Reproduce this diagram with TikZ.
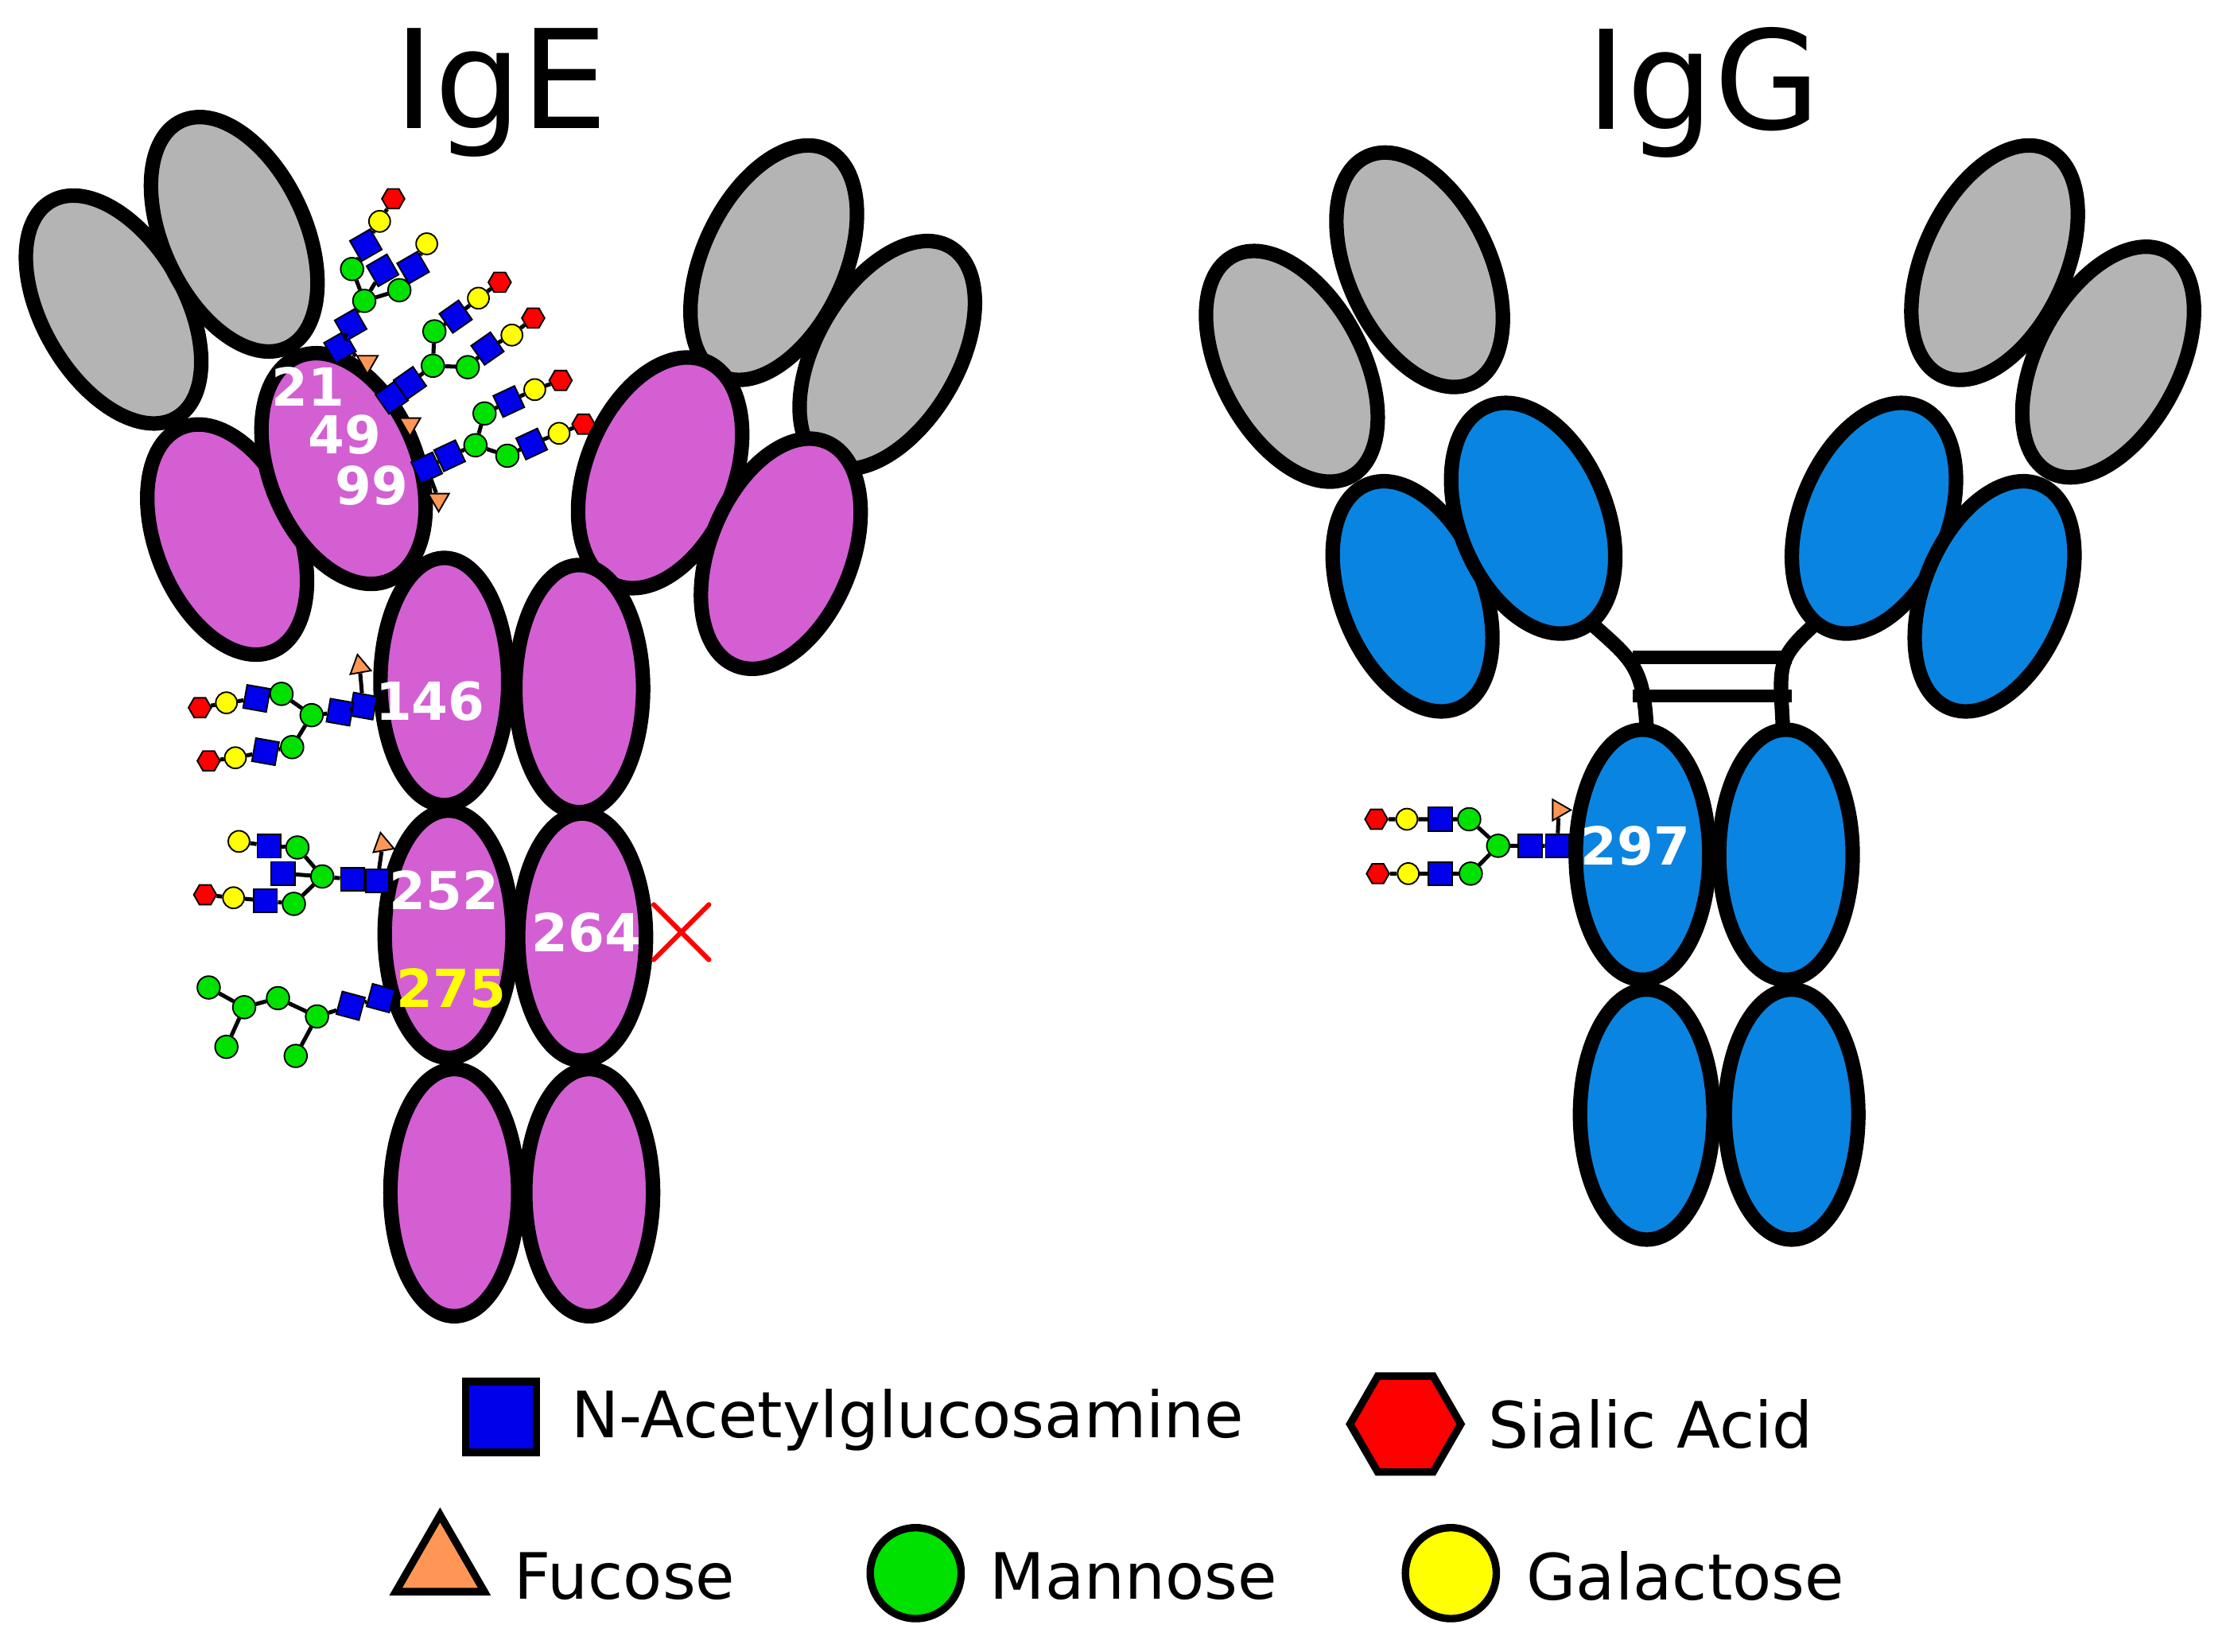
\documentclass[tikz,border=0pt]{standalone}
\usepackage{fontspec}
\setmainfont{DejaVu Sans}
\usetikzlibrary{shapes.geometric}
\definecolor{purpdom}{RGB}{211,95,211}
\definecolor{bluedom}{RGB}{10,132,225}
\definecolor{graydom}{RGB}{180,180,180}
\definecolor{gncol}{RGB}{0,0,235}
\definecolor{mancol}{RGB}{0,225,0}
\definecolor{galcol}{RGB}{255,255,0}
\definecolor{siacol}{RGB}{255,0,0}
\definecolor{fuccol}{RGB}{255,150,85}
\tikzset{
  dom/.style={draw=black,line width=2.9pt},
  gn/.style={draw,fill=gncol,minimum size=0.165cm,inner sep=0pt,line width=0.3pt},
  man/.style={draw,fill=mancol,circle,minimum size=0.16cm,inner sep=0pt,line width=0.3pt},
  gal/.style={draw,fill=galcol,circle,minimum size=0.15cm,inner sep=0pt,line width=0.3pt},
  sia/.style={draw,fill=siacol,regular polygon,regular polygon sides=6,minimum size=0.16cm,inner sep=0pt,line width=0.3pt},
  fuc/.style={draw,fill=fuccol,regular polygon,regular polygon sides=3,minimum size=0.17cm,inner sep=0pt,line width=0.3pt},
  link/.style={line width=0.8pt},
  site/.style={text=white,font=\bfseries\fontsize{10.5}{12}\selectfont},
  legtext/.style={anchor=west,font=\fontsize{12.8}{15}\selectfont},
}
\begin{document}
\begin{tikzpicture}[x=0.01cm,y=0.01cm]
\useasboundingbox (0,0) rectangle (1568,-1163);
% titles
\node[font=\fontsize{27.5}{30}\selectfont] (tE) at (353,-65) {IgE};
\node[font=\fontsize{27.5}{30}\selectfont] (tG) at (1200,-65) {IgG};
% IgE domains
\draw[dom,fill=graydom] (80,-218) ellipse [x radius=0.5cm,y radius=0.88cm,rotate=30];
\draw[dom,fill=graydom] (165,-165) ellipse [x radius=0.5cm,y radius=0.88cm,rotate=25];
\draw[dom,fill=purpdom] (160,-380) ellipse [x radius=0.5cm,y radius=0.85cm,rotate=22];
\draw[dom,fill=purpdom] (242,-330) ellipse [x radius=0.52cm,y radius=0.85cm,rotate=22];
\draw[dom,fill=graydom] (545,-185) ellipse [x radius=0.5cm,y radius=0.88cm,rotate=-25];
\draw[dom,fill=graydom] (625,-250) ellipse [x radius=0.5cm,y radius=0.88cm,rotate=-30];
\draw[dom,fill=purpdom] (465,-333) ellipse [x radius=0.52cm,y radius=0.85cm,rotate=-22];
\draw[dom,fill=purpdom] (550,-390) ellipse [x radius=0.5cm,y radius=0.85cm,rotate=-22];
\foreach \cx/\cy in {313/480,408/485,316/658,410/660,320/840,415/840}
  \draw[dom,fill=purpdom] (\cx,-\cy) ellipse [x radius=0.45cm,y radius=0.87cm];
% IgG hinge
\draw[line width=2.9pt] (1122,-440) .. controls (1150,-465) and (1158,-470) .. (1160,-515);
\draw[line width=2.9pt] (1278,-440) .. controls (1250,-465) and (1254,-470) .. (1256,-515);
\draw[line width=2.6pt] (1150,-463) -- (1262,-463);
\draw[line width=2.6pt] (1150,-490) -- (1262,-490);
% IgG domains
\draw[dom,fill=graydom] (910,-258) ellipse [x radius=0.5cm,y radius=0.88cm,rotate=28];
\draw[dom,fill=graydom] (1000,-190) ellipse [x radius=0.5cm,y radius=0.88cm,rotate=25];
\draw[dom,fill=bluedom] (995,-420) ellipse [x radius=0.5cm,y radius=0.85cm,rotate=22];
\draw[dom,fill=bluedom] (1080,-365) ellipse [x radius=0.52cm,y radius=0.85cm,rotate=22];
\draw[dom,fill=graydom] (1405,-185) ellipse [x radius=0.5cm,y radius=0.88cm,rotate=-25];
\draw[dom,fill=graydom] (1485,-255) ellipse [x radius=0.5cm,y radius=0.88cm,rotate=-28];
\draw[dom,fill=bluedom] (1320,-365) ellipse [x radius=0.52cm,y radius=0.85cm,rotate=-22];
\draw[dom,fill=bluedom] (1405,-420) ellipse [x radius=0.5cm,y radius=0.85cm,rotate=-22];
\foreach \cx/\cy in {1157/602,1258/602,1160/785,1262/785}
  \draw[dom,fill=bluedom] (\cx,-\cy) ellipse [x radius=0.47cm,y radius=0.88cm];
% site labels
\node[site] (l21) at (217,-272) {21};
\node[site] (l49) at (243,-306) {49};
\node[site] (l99) at (262,-342) {99};
\node[site] (l146) at (303,-494) {146};
\node[site] (l252) at (313,-627) {252};
\node[site,text=galcol] (l275) at (318,-696) {275};
\node[site] (l264) at (413,-657) {264};
\node[site] (l297) at (1152,-596) {297};
\node[text=red,font=\fontsize{24}{26}\selectfont] (nox) at (480,-657) {$\times$};
% glycan 21
\node[gn,rotate=30] (a1) at (239.5,-244.5) {};
\node[gn,rotate=30] (a2) at (247,-228.7) {};
\node[man] (a3) at (256.6,-211.9) {};
\node[man] (a4) at (248,-189.5) {};
\node[man] (a5) at (281.3,-204.4) {};
\node[gn,rotate=30] (a6) at (257.7,-172.7) {};
\node[gal] (a7) at (267.4,-155.9) {};
\node[sia] (a8) at (277,-140) {};
\node[gn,rotate=30] (a9) at (269.5,-190.4) {};
\node[gn,rotate=30] (a10) at (291,-188.5) {};
\node[gal] (a11) at (300.6,-171.7) {};
\node[fuc,rotate=180] (a12) at (258.8,-254.8) {};
\draw[link] (a1)--(a2) (a2)--(a3) (a3)--(a4) (a3)--(a5) (a4)--(a6) (a6)--(a7) (a7)--(a8)
  (a3)--(a9) (a5)--(a10) (a10)--(a11) (a1)--(a12);
% glycan 49
\node[gn,rotate=35] (b1) at (276,-280) {};
\node[gn,rotate=35] (b2) at (288.8,-269.8) {};
\node[man] (b3) at (304.9,-257.6) {};
\node[man] (b4) at (306,-233.4) {};
\node[gn,rotate=35] (b5) at (321,-223) {};
\node[gal] (b6) at (337,-210) {};
\node[sia] (b7) at (352,-198.8) {};
\node[man] (b8) at (329.5,-258.6) {};
\node[gn,rotate=35] (b9) at (343.4,-245.5) {};
\node[gal] (b10) at (360.6,-236) {};
\node[sia] (b11) at (375.6,-224) {};
\node[fuc,rotate=180] (b12) at (288.8,-298.7) {};
\draw[link] (b1)--(b2) (b2)--(b3) (b3)--(b4) (b4)--(b5) (b5)--(b6) (b6)--(b7)
  (b3)--(b8) (b8)--(b9) (b9)--(b10) (b10)--(b11) (b1)--(b12);
% glycan 99
\node[gn,rotate=25] (c1) at (300.6,-329.5) {};
\node[gn,rotate=25] (c2) at (316.7,-321) {};
\node[man] (c3) at (334.9,-313.6) {};
\node[man] (c4) at (341.3,-291.2) {};
\node[gn,rotate=25] (c5) at (358.4,-282.8) {};
\node[gal] (c6) at (376.7,-274.4) {};
\node[sia] (c7) at (394.9,-267.9) {};
\node[man] (c8) at (357.4,-321) {};
\node[gn,rotate=25] (c9) at (374.5,-312.7) {};
\node[gal] (c10) at (393.8,-305.2) {};
\node[sia] (c11) at (411,-298.7) {};
\node[fuc,rotate=180] (c12) at (309,-351.9) {};
\draw[link] (c1)--(c2) (c2)--(c3) (c3)--(c4) (c4)--(c5) (c5)--(c6) (c6)--(c7)
  (c3)--(c8) (c8)--(c9) (c9)--(c10) (c10)--(c11) (c1)--(c12);
% glycan 146
\node[gn,rotate=-10] (d1) at (255.8,-497.3) {};
\node[gn,rotate=-10] (d2) at (239.5,-501.6) {};
\node[man] (d3) at (219.5,-503.7) {};
\node[man] (d4) at (198.3,-488.7) {};
\node[gn,rotate=-10] (d5) at (180.8,-491.9) {};
\node[gal] (d6) at (159.5,-495) {};
\node[sia] (d7) at (140.8,-498.4) {};
\node[man] (d8) at (205.8,-526.2) {};
\node[gn,rotate=-10] (d9) at (187,-529.4) {};
\node[gal] (d10) at (165.8,-533.7) {};
\node[sia] (d11) at (147,-535.9) {};
\node[fuc,rotate=10] (d12) at (253.3,-469.4) {};
\draw[link] (d1)--(d2) (d2)--(d3) (d3)--(d4) (d4)--(d5) (d5)--(d6) (d6)--(d7)
  (d3)--(d8) (d8)--(d9) (d9)--(d10) (d10)--(d11) (d1)--(d12);
% glycan 252
\node[gn] (e1) at (265.8,-620.5) {};
\node[gn] (e2) at (248.3,-619.4) {};
\node[man] (e3) at (227,-617.3) {};
\node[gn] (e4) at (199.5,-615.2) {};
\node[man] (e5) at (209.5,-596.9) {};
\node[gn] (e6) at (189.5,-595.9) {};
\node[gal] (e7) at (168.3,-592.6) {};
\node[man] (e8) at (207,-636.6) {};
\node[gn] (e9) at (187,-634.4) {};
\node[gal] (e10) at (164.5,-632.3) {};
\node[sia] (e11) at (144.5,-630.2) {};
\node[fuc,rotate=10] (e12) at (269.5,-594.8) {};
\draw[link] (e1)--(e2) (e2)--(e3) (e3)--(e4) (e3)--(e5) (e5)--(e6) (e6)--(e7)
  (e3)--(e8) (e8)--(e9) (e9)--(e10) (e10)--(e11) (e1)--(e12);
% glycan 275
\node[gn,rotate=-15] (f1) at (268.3,-703) {};
\node[gn,rotate=-15] (f2) at (247,-708.4) {};
\node[man] (f3) at (223.3,-715.9) {};
\node[man] (f4) at (208.3,-743.7) {};
\node[man] (f5) at (195.8,-703) {};
\node[man] (f6) at (172,-709.4) {};
\node[man] (f7) at (147,-695.5) {};
\node[man] (f8) at (159.5,-737.3) {};
\draw[link] (f1)--(f2) (f2)--(f3) (f3)--(f4) (f3)--(f5) (f5)--(f6) (f6)--(f7) (f6)--(f8);
% glycan 297
\node[gn] (g1) at (1097,-595.7) {};
\node[gn] (g2) at (1077.8,-595.7) {};
\node[man] (g3) at (1055.3,-595.7) {};
\node[man] (g4) at (1034.9,-577) {};
\node[gn] (g5) at (1014.5,-577) {};
\node[gal] (g6) at (991,-577) {};
\node[sia] (g7) at (969.5,-577) {};
\node[man] (g8) at (1036,-615.3) {};
\node[gn] (g9) at (1014.5,-615.3) {};
\node[gal] (g10) at (992,-615.3) {};
\node[sia] (g11) at (970.6,-615.3) {};
\node[fuc,rotate=30] (g12) at (1098,-570.5) {};
\draw[link] (g1)--(g2) (g2)--(g3) (g3)--(g4) (g4)--(g5) (g5)--(g6) (g6)--(g7)
  (g3)--(g8) (g8)--(g9) (g9)--(g10) (g10)--(g11) (g1)--(g12);
% legend
\node[gn,minimum size=0.5cm,line width=1.5pt] (kgn) at (353,-998) {};
\node[legtext] (tgn) at (390,-1000) {N-Acetylglucosamine};
\node[sia,minimum size=0.78cm,line width=1.5pt] (ksia) at (990,-1003) {};
\node[legtext] (tsia) at (1036,-1003) {Sialic Acid};
\node[fuc,minimum size=0.72cm,line width=1.5pt] (kfuc) at (310,-1103) {};
\node[legtext] (tfuc) at (350,-1110) {Fucose};
\node[man,minimum size=0.64cm,line width=1.5pt] (kman) at (645,-1108) {};
\node[legtext] (tman) at (685,-1110) {Mannose};
\node[gal,minimum size=0.64cm,line width=1.5pt] (kgal) at (1022,-1108) {};
\node[legtext] (tgal) at (1063,-1110) {Galactose};
\end{tikzpicture}
\end{document}
